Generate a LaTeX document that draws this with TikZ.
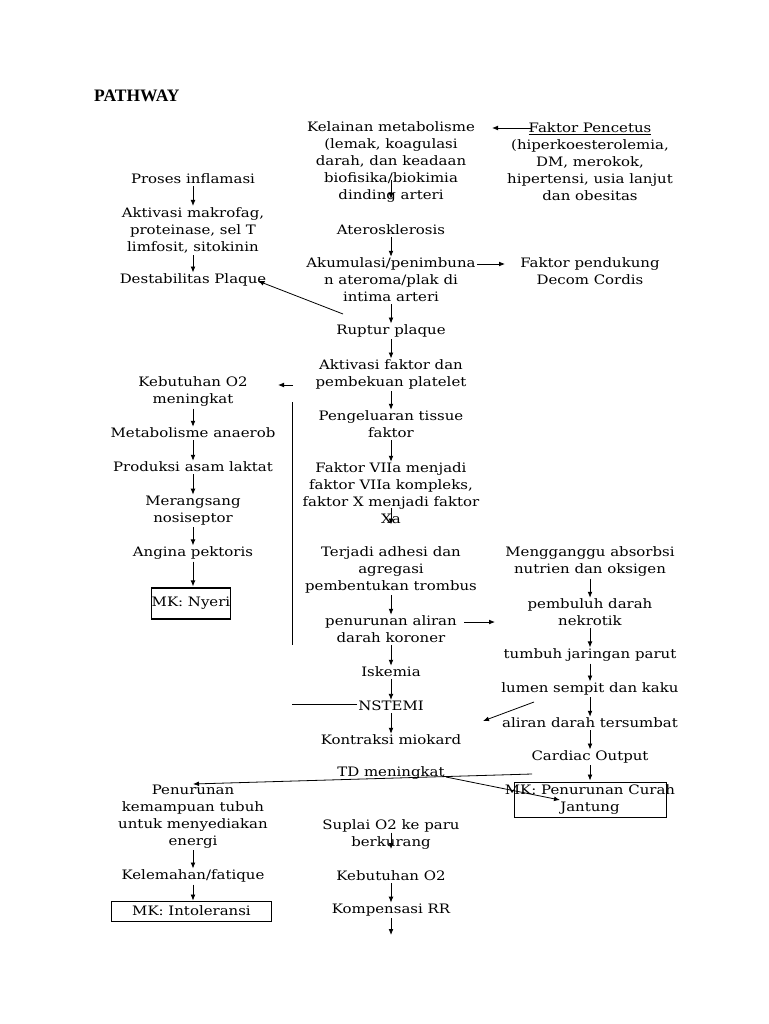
\documentclass[tikz,border=0pt]{standalone}
\usepackage{fontspec}
\setmainfont{DejaVu Serif}[FakeStretch=1.15]
\newfontfamily\titlefont{Liberation Serif}
\usetikzlibrary{arrows.meta,calc}
\begin{document}
\begin{tikzpicture}[x=1pt,y=-1pt,
  every node/.style={font=\fontsize{13}{17}\selectfont, align=center, inner sep=0pt},
  arr/.style={-{Latex[length=6pt,width=4.8pt]}, line width=0.8pt},
  vv/.style={arr, shorten <=2pt, shorten >=1pt},
  ln/.style={line width=0.8pt},
  mkbox/.style={draw, line width=1.1pt}]
\useasboundingbox (0,0) rectangle (768,1024);
\fill[white] (0,0) rectangle (768,1024);

\node[anchor=west, font=\titlefont\bfseries\fontsize{17.5}{19}\selectfont] (title) at (94,96) {PATHWAY};

% centre column
\node (kel) at (391,162) {Kelainan metabolisme\\(lemak, koagulasi\\darah, dan keadaan\\biofisika/biokimia\\dinding arteri};
\node (ater) at (391,230) {Aterosklerosis};
\node (akum) at (391,280) {Akumulasi/penimbuna\\n ateroma/plak di\\intima arteri};
\node (rup) at (391,331) {Ruptur plaque};
\node (akt) at (391,374.5) {Aktivasi faktor dan\\pembekuan platelet};
\node (peng) at (391,424.5) {Pengeluaran tissue\\faktor};
\node (f7) at (391,493.5) {Faktor VIIa menjadi\\faktor VIIa kompleks,\\faktor X menjadi faktor\\Xa};
\node (ter) at (391,570) {Terjadi adhesi dan\\agregasi\\pembentukan trombus};
\node (pen) at (391,629.5) {penurunan aliran\\darah koroner};
\node (isk) at (391,672) {Iskemia};
\node (nst) at (391,706) {NSTEMI};
\node (kon) at (391,740) {Kontraksi miokard};
\node (td) at (391,773) {TD meningkat};
\node (sup) at (391,834.5) {Suplai O2 ke paru\\berkurang};
\node (kebo) at (391,876) {Kebutuhan O2};
\node (komp) at (391,910) {Kompensasi RR};
\coordinate (kend) at (391,936);

% left column
\node (pi) at (193,179) {Proses inflamasi};
\node (am) at (193,230) {Aktivasi makrofag,\\proteinase, sel T\\limfosit, sitokinin};
\node (ds) at (193,280) {Destabilitas Plaque};
\node (ko2) at (193,391.5) {Kebutuhan O2\\meningkat};
\node (ma) at (193,433) {Metabolisme anaerob};
\node (pal) at (193,467) {Produksi asam laktat};
\node (mer) at (193,510.5) {Merangsang\\nosiseptor};
\node (ang) at (193,553) {Angina pektoris};
\node[mkbox, minimum width=78pt, minimum height=31pt] (nyeri) at (191,603.5) {MK: Nyeri};
\node (pkt) at (193,816.5) {Penurunan\\kemampuan tubuh\\untuk menyediakan\\energi};
\node (lem) at (193,876) {Kelemahan/fatique};
\node[mkbox, line width=0.9pt, minimum width=160pt, minimum height=20pt] (int) at (191.5,911) {MK: Intoleransi};

% right column
\node (fp) at (590,162) {\underline{Faktor Pencetus}\\(hiperkoesterolemia,\\DM, merokok,\\hipertensi, usia lanjut\\dan obesitas};
\node (fpd) at (590,271.5) {Faktor pendukung\\Decom Cordis};
\node (mg) at (590,561.5) {Mengganggu absorbsi\\nutrien dan oksigen};
\node (pd) at (590,612.5) {pembuluh darah\\nekrotik};
\node (tj) at (590,655) {tumbuh jaringan parut};
\node (lum) at (590,689) {lumen sempit dan kaku};
\node (adt) at (590,723) {aliran darah tersumbat};
\node (co) at (590,757) {Cardiac Output};
\node[draw, line width=0.9pt, minimum width=152pt, minimum height=35pt] (mkc) at (590,799.5) {};
\node (mkct) at (590,799.5) {MK: Penurunan Curah\\Jantung};

% centre arrows
\draw[arr] ($(kel.center)+(0,18)$) -- ($(kel.center)+(0,37)$);
\draw[vv] (ater) -- (akum);
\draw[vv] (akum) -- (rup);
\draw[vv] (rup) -- (akt);
\draw[vv] (akt) -- (peng);
\draw[vv] (peng) -- (f7);
\draw[arr] ($(f7.center)+(0,14.5)$) -- ($(f7.center)+(0,31)$);
\draw[vv] (ter) -- (pen);
\draw[vv] (pen) -- (isk);
\draw[vv] (isk) -- (nst);
\draw[vv] (nst) -- (kon);
\draw[arr] ($(sup.center)+(0,-2)$) -- ($(sup.center)+(0,14.5)$);
\draw[vv] (kebo) -- (komp);
\draw[vv] (komp) -- (kend);

% left arrows
\draw[vv] (pi) -- (am);
\draw[vv] (am) -- (ds);
\draw[vv] (ko2) -- (ma);
\draw[vv] (ma) -- (pal);
\draw[vv] (pal) -- (mer);
\draw[vv] (mer) -- (ang);
\draw[vv] (ang) -- (ang |- nyeri.north);
\draw[vv] (pkt) -- (lem);
\draw[arr, shorten <=2pt] (lem) -- (lem |- int.north);

% right arrows
\draw[vv] (mg) -- (pd);
\draw[vv] (pd) -- (tj);
\draw[vv] (tj) -- (lum);
\draw[vv] (lum) -- (adt);
\draw[vv] (adt) -- (co);
\draw[vv] (co) -- (mkc);

% cross arrows
\draw[arr] ($(fp.center)+(-58,-34)$) -- ($(kel.center)+(101,-34)$);
\draw[arr] ($(akum.center)+(86,-16)$) -- ($(fpd.center)+(-85,-7.5)$);
\draw[arr] ($(akum.center)+(-48,34)$) -- ($(ds.center)+(65,1)$);
\draw[arr] ($(akt.center)+(-98,10.5)$) -- ($(ko2.center)+(85,-6.5)$);
\draw[arr] ($(pen.center)+(73,-7.5)$) -- ($(pd.center)+(-95,9.5)$);
\draw[arr] ($(lum.center)+(-56,13)$) -- ($(adt.center)+(-107,-2)$);
\draw[arr] ($(co.center)+(-58,17)$) -- ($(pkt.center)+(0,-32.5)$);
\draw[arr] ($(td.center)+(55,4)$) -- ($(mkc.center)+(-30,0.5)$);

% plain lines
\draw[ln] (292,402) -- (292,645);
\draw[ln] ($(nst.west)+(-1,-2)$) -- (292,704);
\end{tikzpicture}
\end{document}
